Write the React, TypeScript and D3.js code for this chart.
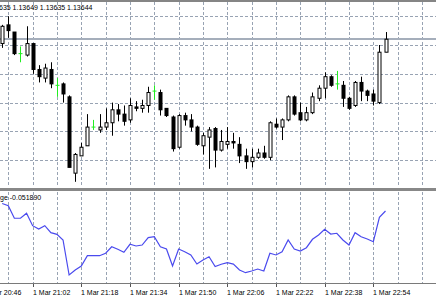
import React from "react";
import * as d3 from "d3";

const W = 436;
const H = 300;

// bar times: 2-minute bars, first bar at 20:52 on 1 Mar
const firstBarMinute = 20 * 60 + 52;
const barMinutes = 2;

const opens = [
  1.13641, 1.13654, 1.13649, 1.13634, 1.13633, 1.13641, 1.13623, 1.13617, 1.13623, 1.13612,
  1.13613, 1.13604, 1.13551, 1.13563, 1.1357, 1.13583, 1.13581, 1.13583, 1.13586, 1.13595,
  1.13592, 1.13588, 1.13597, 1.13596, 1.13598, 1.13608, 1.13607, 1.13596, 1.1359, 1.13569,
  1.13591, 1.13588, 1.13583, 1.1357, 1.13576, 1.13582, 1.13567, 1.13571, 1.13573, 1.13571,
  1.13563, 1.13559, 1.13562, 1.13565, 1.13562, 1.13585, 1.13583, 1.13588, 1.13604, 1.13593,
  1.13588, 1.13593, 1.13603, 1.1361, 1.13618, 1.13613, 1.13612, 1.13603, 1.13598, 1.13614,
  1.13608, 1.13606, 1.136, 1.13635,
];
const highs = [
  1.13654, 1.1366, 1.13649, 1.13639, 1.13653, 1.13641, 1.13626, 1.13627, 1.13628, 1.13617,
  1.13614, 1.13605, 1.13565, 1.13572, 1.13592, 1.13588, 1.13592, 1.13596, 1.136, 1.13599,
  1.13598, 1.13603, 1.13601, 1.13602, 1.13611, 1.13612, 1.13609, 1.13596, 1.13591, 1.13592,
  1.13593, 1.13592, 1.13584, 1.13579, 1.13583, 1.13583, 1.13581, 1.13583, 1.13579, 1.13576,
  1.13568, 1.13568, 1.13568, 1.1357, 1.13587, 1.13589, 1.13589, 1.13605, 1.13605, 1.136,
  1.13597, 1.13607, 1.13612, 1.13621, 1.13619, 1.13622, 1.13615, 1.13604, 1.13615, 1.13618,
  1.13609, 1.13609, 1.1364, 1.13649,
];
const lows = [
  1.13638, 1.13645, 1.13633, 1.13628, 1.13632, 1.1362, 1.13614, 1.13614, 1.1361, 1.13604,
  1.136, 1.13555, 1.13545, 1.13563, 1.1357, 1.13581, 1.13579, 1.13581, 1.13577, 1.13587,
  1.13584, 1.13586, 1.13594, 1.13593, 1.13593, 1.13602, 1.13591, 1.1359, 1.13566, 1.13568,
  1.13584, 1.1358, 1.1357, 1.13564, 1.13554, 1.13555, 1.13566, 1.13568, 1.13568, 1.13558,
  1.13554, 1.13555, 1.13561, 1.13561, 1.1356, 1.13582, 1.13574, 1.13587, 1.13591, 1.13587,
  1.13587, 1.13592, 1.13601, 1.13603, 1.13611, 1.13609, 1.13597, 1.13595, 1.13597, 1.13601,
  1.13601, 1.13598, 1.13599, 1.13635,
];
const closes = [
  1.13653, 1.1365, 1.13634, 1.13634, 1.13641, 1.13623, 1.13618, 1.13624, 1.13613, 1.13612,
  1.13606, 1.13555, 1.13564, 1.13569, 1.13583, 1.13583, 1.13583, 1.13586, 1.13595, 1.13592,
  1.13587, 1.13598, 1.13596, 1.13598, 1.13607, 1.13608, 1.13595, 1.13591, 1.13568, 1.13591,
  1.13588, 1.13583, 1.13571, 1.13577, 1.13581, 1.13567, 1.13573, 1.13573, 1.13572, 1.13563,
  1.13559, 1.13562, 1.13565, 1.13562, 1.13586, 1.13583, 1.13588, 1.13604, 1.13592, 1.13588,
  1.13593, 1.13604, 1.1361, 1.13618, 1.13612, 1.13613, 1.13603, 1.13596, 1.13614, 1.13608,
  1.13605, 1.13601, 1.13635, 1.13644,
];

const indicatorValues = [
  -0.0427, -0.0454, -0.0608, -0.0608, -0.0547, -0.0699, -0.074, -0.0699, -0.0785, -0.0805,
  -0.0874, -0.1303, -0.1242, -0.1193, -0.1067, -0.1067, -0.1067, -0.1037, -0.0957, -0.0988,
  -0.1025, -0.0927, -0.0948, -0.0936, -0.0846, -0.0834, -0.0957, -0.0985, -0.1193, -0.0985,
  -0.1018, -0.1058, -0.1169, -0.1119, -0.1079, -0.1199, -0.1171, -0.1153, -0.1169, -0.1242,
  -0.1275, -0.1254, -0.123, -0.1254, -0.1037, -0.1058, -0.1018, -0.0874, -0.0985, -0.1009,
  -0.0969, -0.0866, -0.0813, -0.0743, -0.0801, -0.0792, -0.0874, -0.0936, -0.0785, -0.0834,
  -0.0862, -0.0895, -0.0596, -0.0519,
];

const timeTickLabels = [
  "1 Mar 20:46", "1 Mar 21:02", "1 Mar 21:18", "1 Mar 21:34",
  "1 Mar 21:50", "1 Mar 22:06", "1 Mar 22:22", "1 Mar 22:38", "1 Mar 22:54",
];
const priceGridLevels = [1.1366, 1.1364, 1.1362, 1.136, 1.1358, 1.1356];
const indicatorLabel = "ge -0.051890";

const FONT = "'Liberation Sans', Arial, sans-serif";
const GRID = "#98a3b3";

function toMinute(label: string) {
  const hm = label.split(" ")[2].split(":");
  return +hm[0] * 60 + +hm[1];
}

export default function App() {
  const n = closes.length;
  const times = d3.range(n).map((i) => firstBarMinute + i * barMinutes);
  const x = d3
    .scaleLinear()
    .domain([times[0], times[n - 1]])
    .range([2.2, 385.5]);
  const y = d3.scaleLinear().domain([1.1356, 1.1366]).range([160.2, 16.2]);
  const yi = d3.scaleLinear().domain([-0.14, -0.03]).range([282.9, 193.1]);

  const gridMinutes = d3
    .range(times[1] - 8 * 2, times[0] + 400, 8)
    .filter((m) => x(m) >= 0 && x(m) <= W);

  const line = d3
    .line<number>()
    .x((_, i) => x(times[i]))
    .y((v) => yi(v));

  const last = n - 1;
  const header = `${opens[last].toFixed(5).slice(4)} ${highs[last].toFixed(5)} ${lows[last].toFixed(5)} ${closes[last].toFixed(5)}`;
  const bidY = Math.round(y(closes[last]));

  return (
    <svg
      width={W}
      height={H}
      style={{ position: "absolute", left: 0, top: 0, background: "#fff" }}
      fontFamily={FONT}
    >
      <rect x={0} y={0} width={W} height={H} fill="#fff" />
      {/* top border */}
      <line x1={0} x2={W} y1={1} y2={1} stroke="#858585" strokeWidth={2} />

      {/* vertical grid, top panel and bottom panel */}
      {gridMinutes.map((m) => {
        const gx = Math.round(x(m)) + 0.5;
        return (
          <g key={"vg" + m}>
            <line x1={gx} x2={gx} y1={2} y2={187} stroke={GRID} strokeDasharray="3,2" />
            <line x1={gx} x2={gx} y1={192} y2={283} stroke={GRID} strokeDasharray="3,2" />
          </g>
        );
      })}
      {/* horizontal grid */}
      {priceGridLevels.map((p) => {
        const gy = Math.round(y(p)) + 0.5;
        return (
          <line key={"hg" + p} x1={0} x2={W} y1={gy} y2={gy} stroke={GRID} strokeDasharray="3,2" />
        );
      })}
      {/* bid line */}
      <line x1={0} x2={W} y1={bidY} y2={bidY} stroke="#a5aebb" strokeWidth={2} />

      {/* candles */}
      {times.map((t, i) => {
        const cx = x(t);
        const o = opens[i], c = closes[i], hi = highs[i], lo = lows[i];
        const wx = Math.round(cx) + 0.5;
        if (o === c) {
          const cy = y(c);
          return (
            <g key={"c" + i} stroke="#22ee22" strokeWidth={1}>
              <line x1={wx} x2={wx} y1={y(hi)} y2={y(lo)} />
              <line x1={wx - 2} x2={wx + 2} y1={cy} y2={cy} />
            </g>
          );
        }
        const top = y(Math.max(o, c));
        const bot = y(Math.min(o, c));
        const bull = c > o;
        return (
          <g key={"c" + i}>
            <line x1={wx} x2={wx} y1={y(hi)} y2={y(lo)} stroke="#000" strokeWidth={1} />
            {bull ? (
              <rect
                x={wx - 1.5}
                y={top}
                width={3}
                height={Math.max(bot - top, 1)}
                fill="#fff"
                stroke="#000"
                strokeWidth={1}
              />
            ) : (
              <rect
                x={wx - 2}
                y={top - 0.5}
                width={4}
                height={Math.max(bot - top + 1, 1.5)}
                fill="#000"
              />
            )}
          </g>
        );
      })}

      {/* header text */}
      <text x={-1} y={10} fontSize={7} fill="#000">
        {header}
      </text>

      {/* panel separator */}
      <rect x={0} y={188} width={W} height={3} fill="#888" />

      {/* indicator */}
      <path d={line(indicatorValues) || ""} fill="none" stroke="#4a4aee" strokeWidth={1.2} />
      <text x={0} y={200} fontSize={7} fill="#000">
        {indicatorLabel}
      </text>

      {/* time axis */}
      <line x1={0} x2={W} y1={283.5} y2={283.5} stroke="#7a7a7a" strokeWidth={1} />
      {timeTickLabels.map((lab) => {
        const tx = Math.round(x(toMinute(lab))) + 0.5;
        return (
          <g key={lab}>
            <line x1={tx} x2={tx} y1={284} y2={287} stroke="#555" />
            <text x={tx - 0.5} y={294.5} fontSize={7} fill="#000">
              {lab}
            </text>
          </g>
        );
      })}
    </svg>
  );
}
